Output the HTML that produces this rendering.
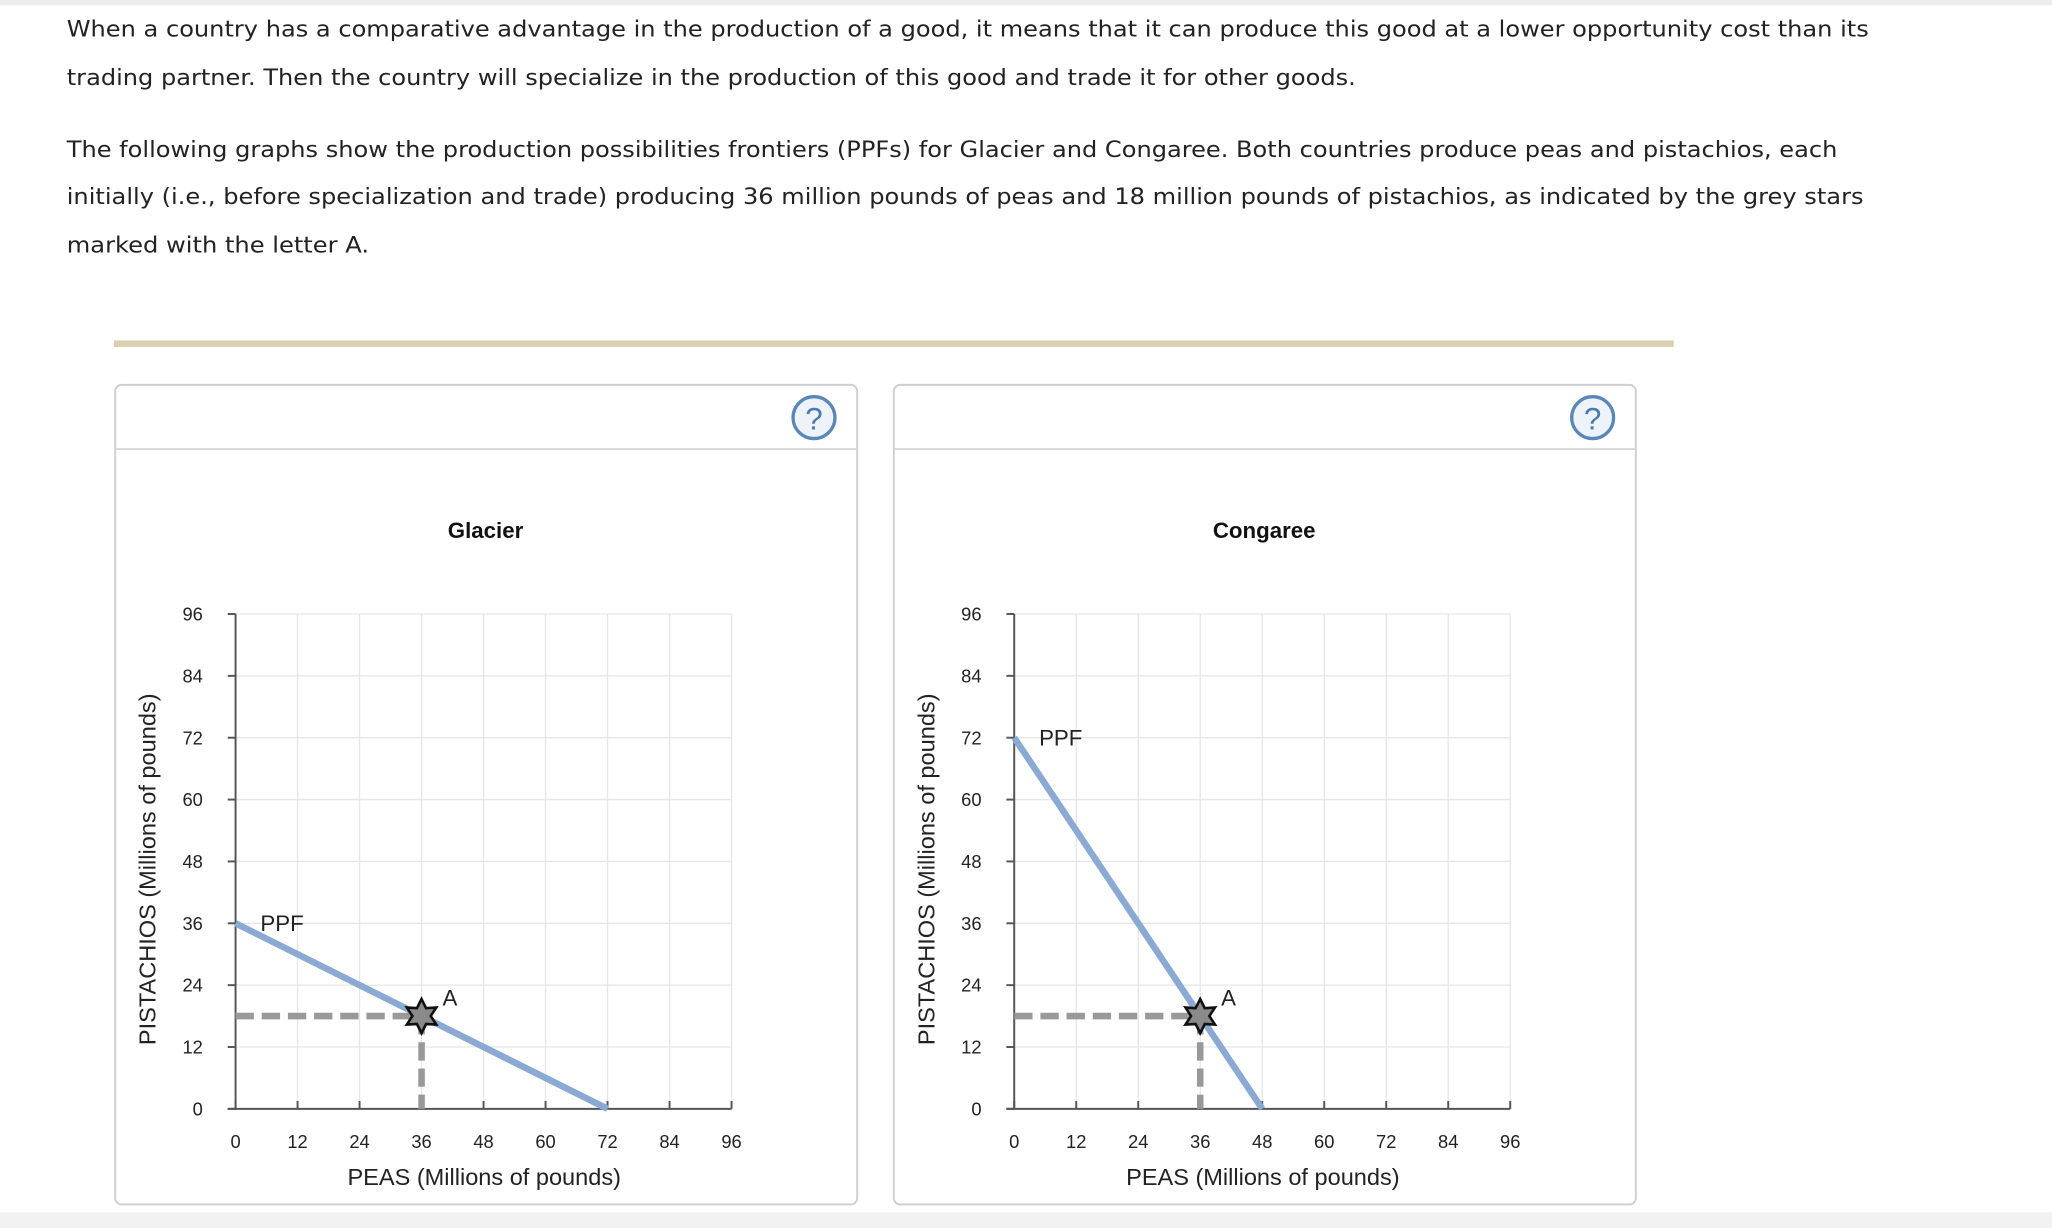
<!DOCTYPE html>
<html><head><meta charset="utf-8"><style>
html,body{margin:0;padding:0;background:#fff;}
svg{display:block;}
</style></head><body>
<svg id="root" width="2052" height="1228" viewBox="0 0 1568 938" preserveAspectRatio="none" xmlns="http://www.w3.org/2000/svg" font-family="'Liberation Sans', sans-serif">
<rect x="0" y="0" width="1568" height="938" fill="#fff"/>
<rect x="0" y="0" width="1568" height="4" fill="#ececec"/>
<g font-family="'DejaVu Sans', sans-serif" font-size="17" fill="#222">
<text x="51" y="28" textLength="1377" lengthAdjust="spacingAndGlyphs">When a country has a comparative advantage in the production of a good, it means that it can produce this good at a lower opportunity cost than its</text>
<text x="51" y="65" textLength="985" lengthAdjust="spacingAndGlyphs">trading partner. Then the country will specialize in the production of this good and trade it for other goods.</text>
<text x="51" y="120" textLength="1353" lengthAdjust="spacingAndGlyphs">The following graphs show the production possibilities frontiers (PPFs) for Glacier and Congaree. Both countries produce peas and pistachios, each</text>
<text x="51" y="156" textLength="1373" lengthAdjust="spacingAndGlyphs">initially (i.e., before specialization and trade) producing 36 million pounds of peas and 18 million pounds of pistachios, as indicated by the grey stars</text>
<text x="51" y="193" textLength="231" lengthAdjust="spacingAndGlyphs">marked with the letter A.</text>
</g>
<rect x="87" y="260" width="1192" height="5" fill="#d9cfae"/>
<rect x="0" y="926" width="1568" height="12" fill="#f2f2f2"/>
<g id="charts"></g>
</svg>
<script>
const countries = ["Glacier", "Congaree"];
const peasMax = [72, 48];
const pistachiosMax = [36, 72];
const pointAPeas = [36, 36];
const pointAPistachios = [18, 18];
const tickValues = [0, 12, 24, 36, 48, 60, 72, 84, 96];

const NS = "http://www.w3.org/2000/svg";
const host = document.getElementById("charts");
function mk(tag, attrs, parent) {
  const e = document.createElementNS(NS, tag);
  for (const k in attrs) e.setAttribute(k, attrs[k]);
  parent.appendChild(e);
  return e;
}
countries.forEach((name, i) => {
  const off = i * 595;
  const g = mk("g", {}, host);
  
  
  mk("rect", {x: 88 + off, y: 294, width: 567, height: 626, rx: 5, fill: "#fff", stroke: "#cfcfcf", "stroke-width": 1.5}, g);
  mk("line", {x1: 88 + off, x2: 655 + off, y1: 343, y2: 343, stroke: "#d6d6d6", "stroke-width": 1.5}, g);
  const help = mk("g", {}, g);
  
  
  mk("circle", {cx: 622 + off, cy: 319, r: 16, fill: "#eef3f9", stroke: "#5a86b8", "stroke-width": 2.5}, help);
  const q = mk("text", {x: 622 + off, y: 328, "text-anchor": "middle", "font-size": 24, fill: "#4a7ab0"}, help);
  q.textContent = "?";

  const x0 = 180 + off, y0 = 847;
  const sx = v => x0 + v * (379 / 96);
  const sy = v => y0 - v * (378 / 96);

  const title = mk("text", {x: 371 + off, y: 411, "text-anchor": "middle", "font-size": 17, "font-weight": "bold", fill: "#111"}, g);
  
  
  title.textContent = name;

  const grid = mk("g", {stroke: "#e6e6e6", "stroke-width": 1}, g);
  
  
  tickValues.slice(1).forEach(v => {
    mk("line", {x1: sx(v), x2: sx(v), y1: sy(0), y2: sy(96)}, grid);
    mk("line", {x1: sx(0), x2: sx(96), y1: sy(v), y2: sy(v)}, grid);
  });

  const axes = mk("g", {stroke: "#555", "stroke-width": 1.5}, g);
  
  
  mk("line", {x1: sx(0), x2: sx(0), y1: sy(0), y2: sy(96)}, axes);
  mk("line", {x1: sx(0) - 6, x2: sx(96), y1: sy(0), y2: sy(0)}, axes);
  tickValues.forEach(v => {
    mk("line", {x1: sx(0) - 6, x2: sx(0), y1: sy(v), y2: sy(v)}, axes);
    mk("line", {x1: sx(v), x2: sx(v), y1: sy(0), y2: sy(0) - 6}, axes);
  });
  tickValues.forEach(v => {
    const ty = mk("text", {x: 155 + off, y: sy(v) + 5, "text-anchor": "end", "font-size": 14, fill: "#222"}, g);
    
    
    ty.textContent = v;
    const tx = mk("text", {x: sx(v), y: 877, "text-anchor": "middle", "font-size": 14, fill: "#222"}, g);
    
    
    tx.textContent = v;
  });
  const xt = mk("text", {x: 370 + off, y: 905, "text-anchor": "middle", "font-size": 18, fill: "#222"}, g);
  
  
  xt.textContent = "PEAS (Millions of pounds)";
  const yt = mk("text", {x: 0, y: 0, "text-anchor": "middle", "font-size": 18, fill: "#222", transform: `translate(${119 + off},664) rotate(-90)`}, g);
  
  
  yt.textContent = "PISTACHIOS (Millions of pounds)";

  const ppf = mk("line", {x1: sx(0), y1: sy(pistachiosMax[i]), x2: sx(peasMax[i]), y2: sy(0), stroke: "#8aaad4", "stroke-width": 5}, g);
  
  
  const pl = mk("text", {x: sx(0) + 19, y: sy(pistachiosMax[i]) + 6, "font-size": 17, fill: "#222"}, g);
  
  
  pl.textContent = "PPF";

  const ax = sx(pointAPeas[i]), ay = sy(pointAPistachios[i]);
  const dash = mk("g", {stroke: "#999", "stroke-width": 5, "stroke-dasharray": "14 6"}, g);
  
  
  mk("line", {x1: sx(0), y1: ay, x2: ax, y2: ay}, dash);
  mk("line", {x1: ax, y1: ay, x2: ax, y2: sy(0)}, dash);

  const r1 = 13, r2 = 7;
  let pts = [];
  for (let k = 0; k < 12; k++) {
    const r = k % 2 ? r2 : r1;
    const a = -Math.PI / 2 + k * Math.PI / 6;
    pts.push((ax + r * Math.cos(a)).toFixed(1) + "," + (ay + r * Math.sin(a)).toFixed(1));
  }
  const star = mk("polygon", {points: pts.join(" "), fill: "#8a8a8a", stroke: "#111", "stroke-width": 2}, g);
  
  
  const al = mk("text", {x: ax + 16, y: ay - 8, "font-size": 17, fill: "#222"}, g);
  
  
  al.textContent = "A";
});
</script>
</body></html>
